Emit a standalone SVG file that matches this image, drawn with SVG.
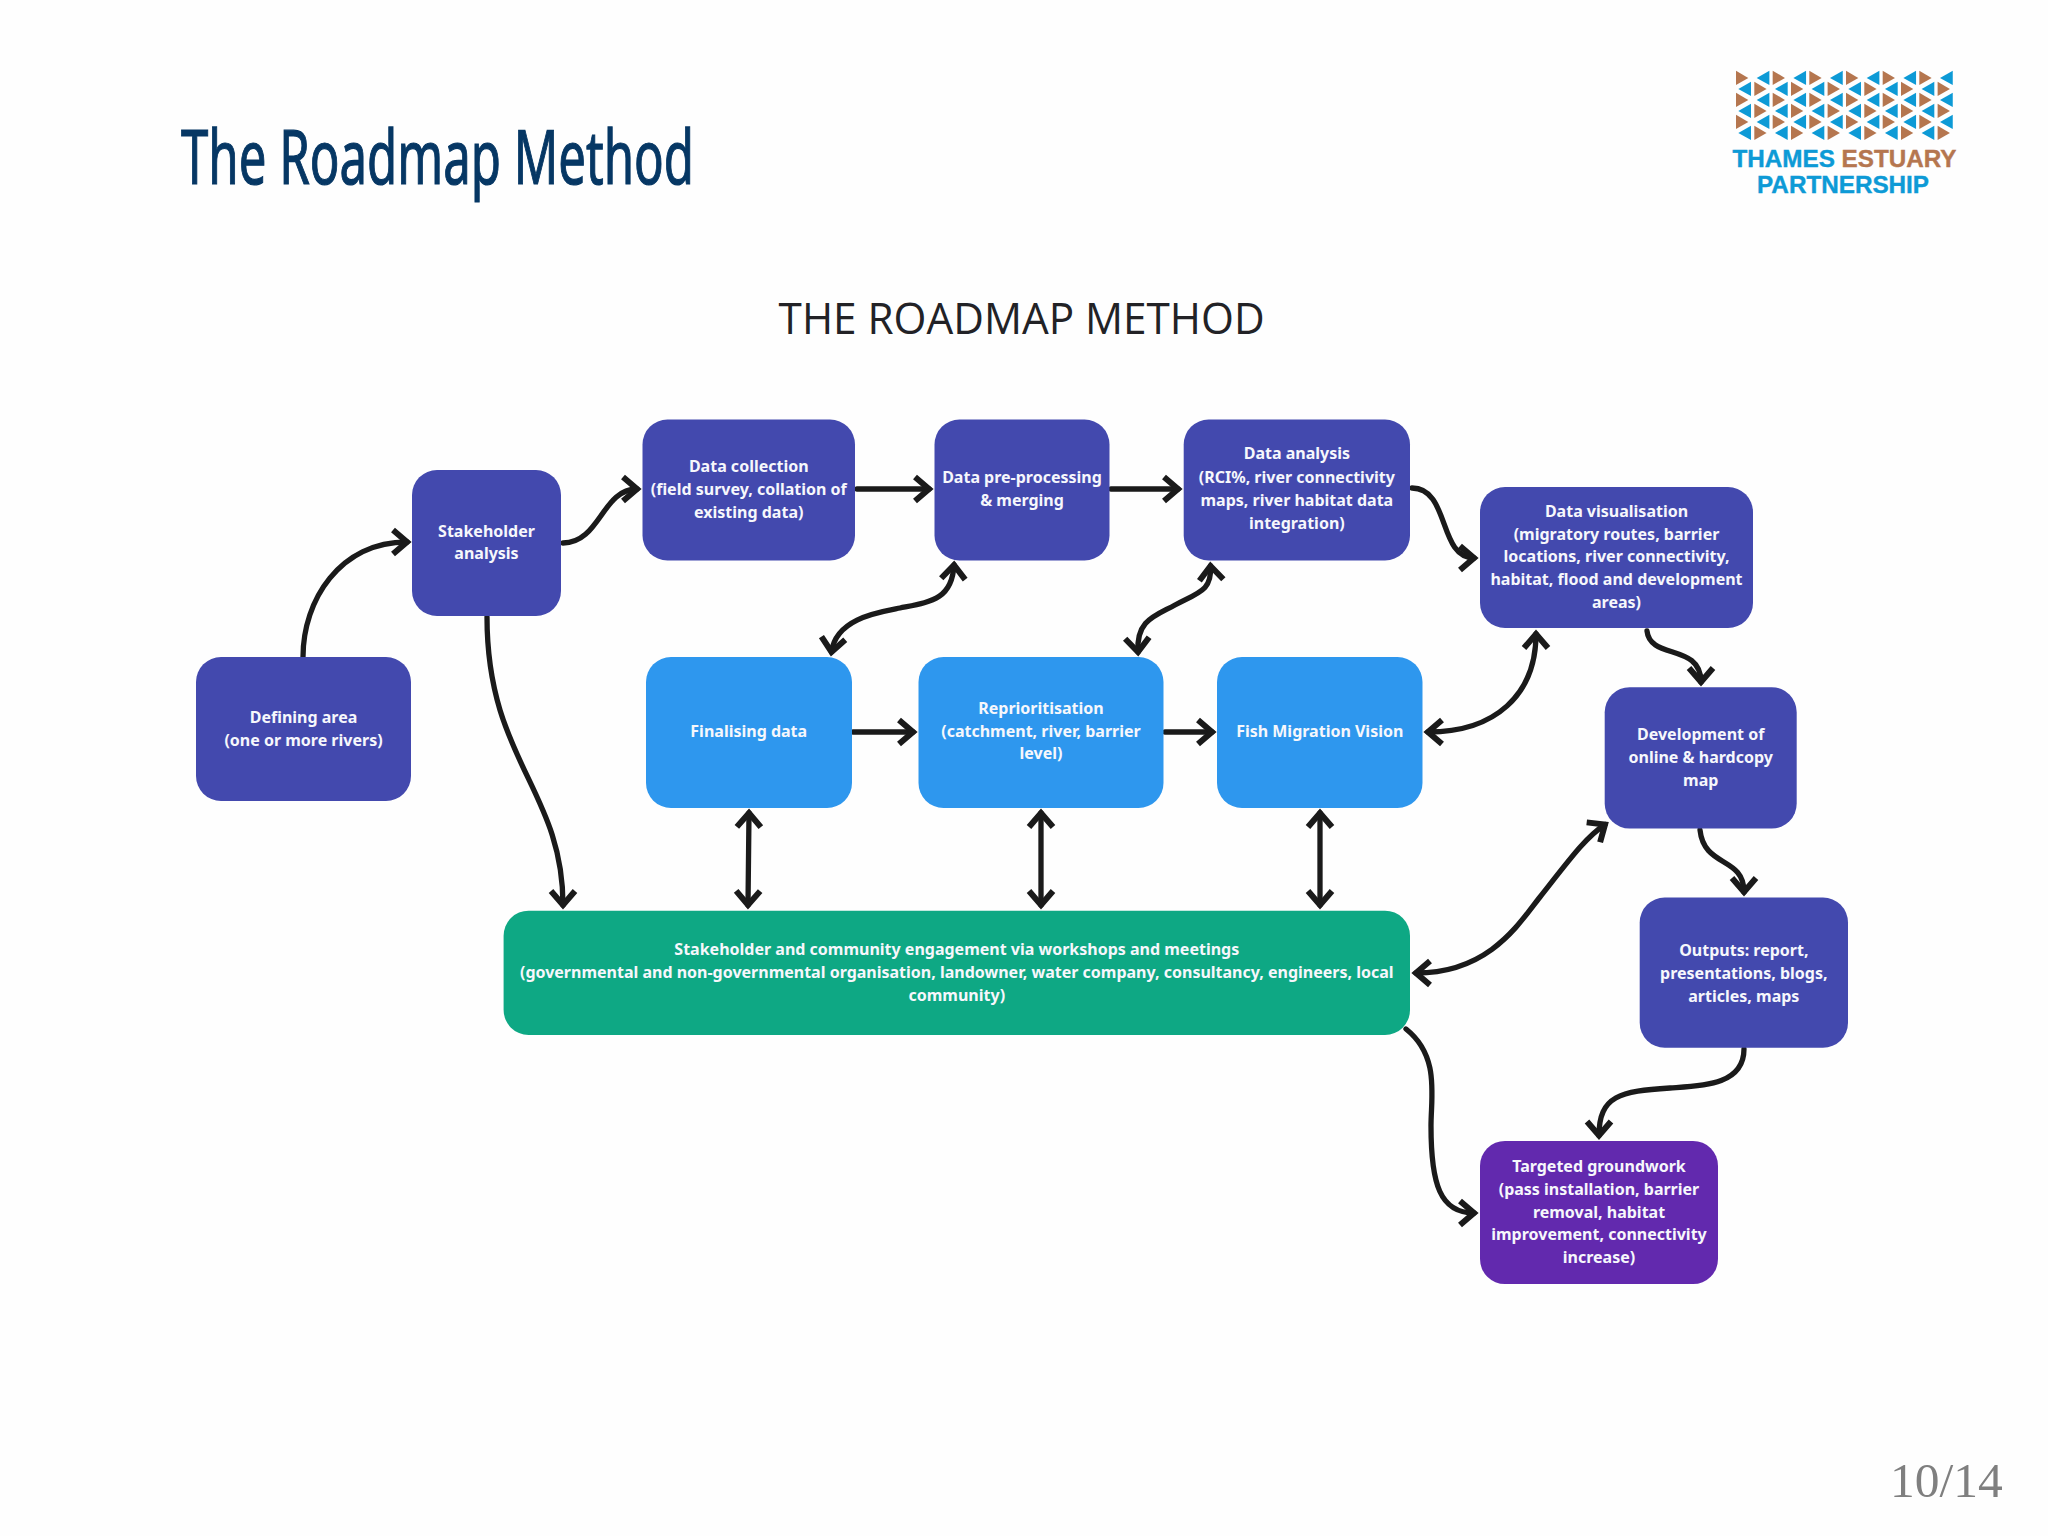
<svg xmlns="http://www.w3.org/2000/svg" width="2048" height="1536" viewBox="0 0 2048 1536">
<style>
.n{font-family:"Noto Sans","Open Sans",sans-serif;font-weight:700;font-size:16px;fill:#f6f7fc;text-anchor:middle}
.d{fill:#4349ae}.l{fill:#2e97ee}.g{fill:#0ea884}.p{fill:#6229ae}
.c{fill:none;stroke:#1a1a1a;stroke-width:5.300;stroke-linecap:round}
.e{marker-end:url(#ah)}.b{marker-end:url(#ah);marker-start:url(#as)}
</style>
<defs>
<marker id="ah" markerUnits="userSpaceOnUse" markerWidth="26" markerHeight="36" refX="18" refY="18" orient="auto"><path d="M4 6 L18 18 L4 30" fill="none" stroke="#1a1a1a" stroke-width="6"/></marker>
<marker id="as" markerUnits="userSpaceOnUse" markerWidth="26" markerHeight="36" refX="18" refY="18" orient="auto-start-reverse"><path d="M4 6 L18 18 L4 30" fill="none" stroke="#1a1a1a" stroke-width="6"/></marker>
<polygon id="tb" points="0,0 12.3,7.2 0,14.4" fill="#b5764f"/>
<polygon id="tl" points="12.7,0 0,7.2 12.7,14.4" fill="#0d9ad6"/>
<g id="rowA"><use href="#tb" x="0"/><use href="#tl" x="20.7"/><use href="#tb" x="36.67"/><use href="#tl" x="57.37"/><use href="#tb" x="73.33"/><use href="#tl" x="94.03"/><use href="#tb" x="110"/><use href="#tl" x="130.7"/><use href="#tb" x="146.67"/><use href="#tl" x="167.37"/><use href="#tb" x="183.33"/><use href="#tl" x="204.03"/></g>
<g id="rowB"><use href="#tl" x="2.3"/><use href="#tb" x="18.3"/><use href="#tl" x="38.97"/><use href="#tb" x="54.97"/><use href="#tl" x="75.63"/><use href="#tb" x="91.63"/><use href="#tl" x="112.3"/><use href="#tb" x="128.3"/><use href="#tl" x="148.97"/><use href="#tb" x="164.97"/><use href="#tl" x="185.63"/><use href="#tb" x="201.63"/></g>
</defs>
<rect width="2048" height="1536" fill="#fefefe"/>
<text id="slide-title" x="181" y="184" font-family="'Noto Sans',sans-serif" font-size="75" fill="#063764" stroke="#063764" stroke-width="1.2" textLength="513" lengthAdjust="spacingAndGlyphs">The Roadmap Method</text>
<g id="logo">
<g transform="translate(1736,70.7)"><use href="#rowA"/><use href="#rowB" y="11"/><use href="#rowA" y="22"/><use href="#rowB" y="33"/><use href="#rowA" y="44"/><use href="#rowB" y="55"/></g>
<text x="1732.500" y="166.700" font-family="'Liberation Sans',sans-serif" font-weight="700" font-size="24" fill="#0d9ad6" stroke="#0d9ad6" stroke-width="0.4" textLength="224" lengthAdjust="spacingAndGlyphs">THAMES <tspan fill="#b5764f" stroke="#b5764f">ESTUARY</tspan></text>
<text x="1757" y="192.700" font-family="'Liberation Sans',sans-serif" font-weight="700" font-size="24" fill="#0d9ad6" stroke="#0d9ad6" stroke-width="0.4" textLength="172" lengthAdjust="spacingAndGlyphs">PARTNERSHIP</text>
</g>
<text id="diagram-title" x="778.600" y="334" font-family="'Open Sans',sans-serif" font-size="44" fill="#222226" textLength="486" lengthAdjust="spacingAndGlyphs">THE ROADMAP METHOD</text>
<text id="page-number" x="1890" y="1497" font-family="'Liberation Serif',serif" font-size="49.500" fill="#7f7f7f">10/14</text>
<g id="connectors">
<path class="c e" d="M303 657 C303 600 340 542 407 542"/>
<path class="c e" d="M563 543 C600 543 602 489 637 489"/>
<path class="c e" d="M857 489 L929 489"/>
<path class="c e" d="M1111 489 L1178 489"/>
<path class="c e" d="M1412 488 C1450 488 1438 558 1474 558"/>
<path class="c b" d="M831.500 652 C836 618 880 612 900 608 C930 602 952 600 954 565"/>
<path class="c b" d="M1138 652 C1136 620 1155 616 1175 605 C1200 592 1212 590 1210.500 566"/>
<path class="c e" d="M853 732 L913 732"/>
<path class="c e" d="M1165 732 L1212 732"/>
<path class="c b" d="M1428 732 C1495 732 1536 695 1536 634"/>
<path class="c e" d="M1647 631 C1650 660 1701 643 1701 682"/>
<path class="c e" d="M1700 830 C1704 868 1744 856 1744 892"/>
<path class="c e" d="M1744 1049 C1744 1086 1700 1086 1670 1088 C1620 1091 1599 1096 1599 1135.500"/>
<path class="c b" d="M1416 973 C1490 973 1520 922 1540 897 C1570 859 1585 838 1605 824.500"/>
<path class="c e" d="M1406 1029 C1440 1056 1431 1096 1431 1126 C1431 1184 1440 1213 1474 1213"/>
<path class="c e" d="M487 617 C487 760 563 790 563 905"/>
<path class="c b" d="M749 813 L748 905"/>
<path class="c b" d="M1041 813 L1041 905"/>
<path class="c b" d="M1320 813 L1320 905"/>
</g>
<g id="n-defining"><rect class="d" x="196" y="657" width="215" height="144" rx="25"/><text class="n"><tspan x="303.500" y="722.700">Defining area</tspan><tspan x="303.500" y="745.700">(one or more rivers)</tspan></text></g>
<g id="n-stakeholder"><rect class="d" x="412" y="470" width="149" height="146" rx="25"/><text class="n"><tspan x="486.500" y="536.700">Stakeholder</tspan><tspan x="486.500" y="558.500">analysis</tspan></text></g>
<g id="n-collection"><rect class="d" x="642.500" y="419.500" width="212.500" height="141" rx="25"/><text class="n"><tspan x="748.750" y="471.700">Data collection</tspan><tspan x="748.750" y="494.700">(field survey, collation of</tspan><tspan x="748.750" y="517.500">existing data)</tspan></text></g>
<g id="n-preprocessing"><rect class="d" x="934.500" y="419.500" width="175" height="141" rx="25"/><text class="n"><tspan x="1022" y="482.700">Data pre-processing</tspan><tspan x="1022" y="505.700">&amp; merging</tspan></text></g>
<g id="n-analysis"><rect class="d" x="1183.700" y="419.500" width="226.300" height="141" rx="25"/><text class="n"><tspan x="1296.850" y="459.300">Data analysis</tspan><tspan x="1296.850" y="482.700">(RCI%, river connectivity</tspan><tspan x="1296.850" y="505.700">maps, river habitat data</tspan><tspan x="1296.850" y="528.700">integration)</tspan></text></g>
<g id="n-visualisation"><rect class="d" x="1480" y="487" width="273" height="141" rx="25"/><text class="n"><tspan x="1616.500" y="516.700">Data visualisation</tspan><tspan x="1616.500" y="539.500">(migratory routes, barrier</tspan><tspan x="1616.500" y="562">locations, river connectivity,</tspan><tspan x="1616.500" y="585">habitat, flood and development</tspan><tspan x="1616.500" y="607.500">areas)</tspan></text></g>
<g id="n-finalising"><rect class="l" x="646" y="657" width="206" height="151" rx="25"/><text class="n"><tspan x="748.750" y="736.700">Finalising data</tspan></text></g>
<g id="n-reprioritisation"><rect class="l" x="918.500" y="657" width="245" height="151" rx="25"/><text class="n"><tspan x="1041" y="714">Reprioritisation</tspan><tspan x="1041" y="736.700">(catchment, river, barrier</tspan><tspan x="1041" y="759">level)</tspan></text></g>
<g id="n-vision"><rect class="l" x="1217" y="657" width="205.500" height="151" rx="25"/><text class="n"><tspan x="1319.750" y="736.700">Fish Migration Vision</tspan></text></g>
<g id="n-map"><rect class="d" x="1604.700" y="687.200" width="192" height="141.400" rx="25"/><text class="n"><tspan x="1700.700" y="740">Development of</tspan><tspan x="1700.700" y="763">online &amp; hardcopy</tspan><tspan x="1700.700" y="786">map</tspan></text></g>
<g id="n-outputs"><rect class="d" x="1639.700" y="897.500" width="208.300" height="150.200" rx="25"/><text class="n"><tspan x="1743.850" y="955.800">Outputs: report,</tspan><tspan x="1743.850" y="978.800">presentations, blogs,</tspan><tspan x="1743.850" y="1001.700">articles, maps</tspan></text></g>
<g id="n-engagement"><rect class="g" x="503.600" y="910.700" width="906.400" height="124.300" rx="25"/><text class="n"><tspan x="956.800" y="955">Stakeholder and community engagement via workshops and meetings</tspan><tspan x="956.800" y="978">(governmental and non-governmental organisation, landowner, water company, consultancy, engineers, local</tspan><tspan x="956.800" y="1001">community)</tspan></text></g>
<g id="n-groundwork"><rect class="p" x="1480" y="1140.900" width="238" height="143.200" rx="25"/><text class="n"><tspan x="1599" y="1171.600">Targeted groundwork</tspan><tspan x="1599" y="1194.600">(pass installation, barrier</tspan><tspan x="1599" y="1217.500">removal, habitat</tspan><tspan x="1599" y="1239.600">improvement, connectivity</tspan><tspan x="1599" y="1262.500">increase)</tspan></text></g>
</svg>
